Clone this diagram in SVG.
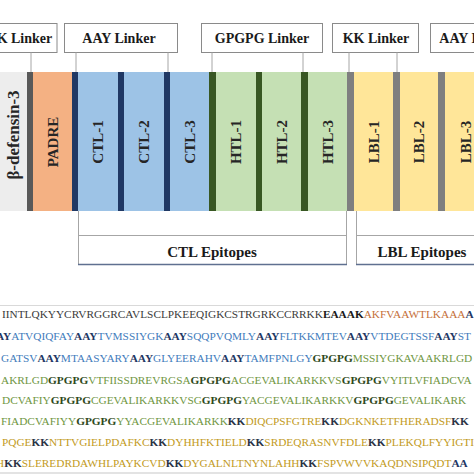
<svg xmlns="http://www.w3.org/2000/svg" width="474" height="474" viewBox="0 0 474 474">
<style>
.lbox{fill:#fff;stroke:#8a8a8a;stroke-width:1}
.lt{font-family:"Liberation Serif","Times New Roman",serif;font-weight:bold;font-size:14px;fill:#1a1a1a;text-anchor:middle}
.conn{stroke:#a6a6a6;stroke-width:1;fill:none}
.seg{font-family:"Liberation Serif","Times New Roman",serif;font-weight:bold;font-size:15px;fill:#262626;text-anchor:middle}
.ep{font-family:"Liberation Serif","Times New Roman",serif;font-weight:bold;font-size:15px;fill:#1a1a1a;text-anchor:middle}
.seq{font-family:"Liberation Serif","Times New Roman",serif;font-size:11.3px}
.b{font-weight:bold}
.k{fill:#3a3a3a}.kb{fill:#1a1a1a}
.o{fill:#c5703a}
.bl{fill:#3f7cbc}.blb{fill:#1f3864}
.g{fill:#6f9642}.gb{fill:#2f4a1c}
.y{fill:#c29a22}.yb{fill:#2b3345}
</style>
<rect width="474" height="474" fill="#fff"/>

<!-- top linker boxes -->
<g id="kk-linker-left"><rect class="lbox" x="-26" y="23.5" width="83" height="29"/><text class="lt" x="19" y="43">KK Linker</text></g>
<g id="aay-linker"><rect class="lbox" x="64.5" y="23.5" width="113" height="29"/><text class="lt" x="119" y="43">AAY Linker</text></g>
<g id="gpgpg-linker"><rect class="lbox" x="201.5" y="23.5" width="121" height="29"/><text class="lt" x="262" y="43">GPGPG Linker</text></g>
<g id="kk-linker"><rect class="lbox" x="332.5" y="23.5" width="86" height="29"/><text class="lt" x="376" y="43">KK Linker</text></g>
<g id="aay-linker-right"><rect class="lbox" x="430.5" y="23.5" width="92" height="29"/><text class="lt" x="476" y="43">AAY Linker</text></g>

<g id="connectors">
<line class="conn" x1="31" y1="52.5" x2="31" y2="72"/>
<line class="conn" x1="76" y1="52.5" x2="76" y2="72"/>
<line class="conn" x1="168" y1="52.5" x2="168" y2="72"/>
<line class="conn" x1="212" y1="52.5" x2="212" y2="72"/>
<line class="conn" x1="303" y1="52.5" x2="303" y2="72"/>
<line class="conn" x1="349" y1="52.5" x2="349" y2="72"/>
<line class="conn" x1="397" y1="52.5" x2="397" y2="72"/>
</g>

<!-- construct bar -->
<g id="bar">
<rect x="0" y="72" width="27" height="139" fill="#ededed"/>
<rect x="27" y="72" width="6" height="139" fill="#595959"/>
<rect x="33" y="72" width="39" height="139" fill="#f4b183"/>
<rect x="72" y="72" width="6" height="139" fill="#203864"/>
<rect x="78" y="72" width="40" height="139" fill="#9dc3e6"/>
<rect x="118" y="72" width="6" height="139" fill="#203864"/>
<rect x="124" y="72" width="40" height="139" fill="#9dc3e6"/>
<rect x="164" y="72" width="6" height="139" fill="#203864"/>
<rect x="170" y="72" width="39" height="139" fill="#9dc3e6"/>
<rect x="209" y="72" width="7" height="139" fill="#385723"/>
<rect x="216" y="72" width="40" height="139" fill="#c5e0b4"/>
<rect x="256" y="72" width="6" height="139" fill="#385723"/>
<rect x="262" y="72" width="39" height="139" fill="#c5e0b4"/>
<rect x="301" y="72" width="7" height="139" fill="#385723"/>
<rect x="308" y="72" width="39" height="139" fill="#c5e0b4"/>
<rect x="347" y="72" width="7" height="139" fill="#7f7f7f"/>
<rect x="354" y="72" width="39" height="139" fill="#ffe699"/>
<rect x="393" y="72" width="7" height="139" fill="#7f7f7f"/>
<rect x="400" y="72" width="38" height="139" fill="#ffe699"/>
<rect x="438" y="72" width="7" height="139" fill="#7f7f7f"/>
<rect x="445" y="72" width="40" height="139" fill="#ffe699"/>
</g>
<g id="bdef3"><text class="seg" style="font-size:17px" transform="translate(13,135) rotate(-90)" y="5.5">β-defensin-3</text></g>
<g id="padre"><text class="seg" transform="translate(52.5,142) rotate(-90)" y="5">PADRE</text></g>
<g id="ctl1"><text class="seg" transform="translate(98,142) rotate(-90)" y="5">CTL-1</text></g>
<g id="ctl2"><text class="seg" transform="translate(144,142) rotate(-90)" y="5">CTL-2</text></g>
<g id="ctl3"><text class="seg" transform="translate(189.5,142) rotate(-90)" y="5">CTL-3</text></g>
<g id="htl1"><text class="seg" transform="translate(236,142) rotate(-90)" y="5">HTL-1</text></g>
<g id="htl2"><text class="seg" transform="translate(281.5,142) rotate(-90)" y="5">HTL-2</text></g>
<g id="htl3"><text class="seg" transform="translate(327.5,142) rotate(-90)" y="5">HTL-3</text></g>
<g id="lbl1"><text class="seg" transform="translate(373.5,142) rotate(-90)" y="5">LBL-1</text></g>
<g id="lbl2"><text class="seg" transform="translate(419,142) rotate(-90)" y="5">LBL-2</text></g>
<g id="lbl3"><text class="seg" transform="translate(466,142) rotate(-90)" y="5">LBL-3</text></g>

<!-- epitope brackets -->
<g id="ctl-epitopes">
<path d="M78.5,211 V265 M346.5,211 V265 M78.5,235.5 H346.5" fill="none" stroke="#a6a6a6" stroke-width="1"/>
<line x1="78" y1="264.5" x2="347" y2="264.5" stroke="#5f7090" stroke-width="1.5"/>
<text class="ep" x="212" y="257">CTL Epitopes</text>
</g>
<g id="lbl-epitopes">
<path d="M356.5,211 V265 M356.5,235.5 H490" fill="none" stroke="#a6a6a6" stroke-width="1"/>
<line x1="356" y1="264.5" x2="490" y2="264.5" stroke="#5f7090" stroke-width="1.5"/>
<text class="ep" x="422" y="257">LBL Epitopes</text>
</g>

<line x1="0" y1="305.5" x2="474" y2="305.5" stroke="#d9d9d9" stroke-width="1"/>

<!-- sequence -->
<g id="sequence" class="seq">
<text x="2" y="318"><tspan class="k">IINTLQKYYCRVRGGRCAVLSCLPKEEQIGKCSTRGRKCCRRKK</tspan><tspan class="kb b">EAAAK</tspan><tspan class="o">AKFVAAWTLKAAA</tspan><tspan class="blb b">A</tspan></text>
<text x="-4" y="340"><tspan class="blb b">AY</tspan><tspan class="bl">ATVQIQFAY</tspan><tspan class="blb b">AAY</tspan><tspan class="bl">TVMSSIYGK</tspan><tspan class="blb b">AAY</tspan><tspan class="bl">SQQPVQMLY</tspan><tspan class="blb b">AAY</tspan><tspan class="bl">FLTKKMTEV</tspan><tspan class="blb b">AAY</tspan><tspan class="bl">VTDEGTSSF</tspan><tspan class="blb b">AAY</tspan><tspan class="bl">ST</tspan></text>
<text x="1" y="362"><tspan class="bl">GATSV</tspan><tspan class="blb b">AAY</tspan><tspan class="bl">MTAASYARY</tspan><tspan class="blb b">AAY</tspan><tspan class="bl">GLYEERAHV</tspan><tspan class="blb b">AAY</tspan><tspan class="bl">TAMFPNLGY</tspan><tspan class="gb b">GPGPG</tspan><tspan class="g">MSSIYGKAVAAKRLG</tspan><tspan class="g">D</tspan></text>
<text x="1" y="384"><tspan class="g">AKRLGD</tspan><tspan class="gb b">GPGPG</tspan><tspan class="g">VTFIISSDREVRGSA</tspan><tspan class="gb b">GPGPG</tspan><tspan class="g">ACGEVALIKARKKVS</tspan><tspan class="gb b">GPGPG</tspan><tspan class="g">VYITLVFIADCVA</tspan></text>
<text x="2" y="404"><tspan class="g">DCVAFIY</tspan><tspan class="gb b">GPGPG</tspan><tspan class="g">CGEVALIKARKKVSG</tspan><tspan class="gb b">GPGPG</tspan><tspan class="g">YACGEVALIKARKKV</tspan><tspan class="gb b">GPGPG</tspan><tspan class="g">GEVALIKARK</tspan></text>
<text x="1" y="425"><tspan class="g">FIADCVAFIYY</tspan><tspan class="gb b">GPGPG</tspan><tspan class="g">YYACGEVALIKARKK</tspan><tspan class="yb b">KK</tspan><tspan class="y">DIQCPSFGTRE</tspan><tspan class="yb b">KK</tspan><tspan class="y">DGKNKETFHERADSF</tspan><tspan class="yb b">KK</tspan></text>
<text x="2" y="446"><tspan class="y">PQGE</tspan><tspan class="yb b">KK</tspan><tspan class="y">NTTVGIELPDAFKC</tspan><tspan class="yb b">KK</tspan><tspan class="y">DYHHFKTIELD</tspan><tspan class="yb b">KK</tspan><tspan class="y">SRDEQRASNVFDLE</tspan><tspan class="yb b">KK</tspan><tspan class="y">PLEKQLFYYIGTI</tspan></text>
<text x="-4" y="467"><tspan class="y">H</tspan><tspan class="yb b">KK</tspan><tspan class="y">SLEREDRDAWHLPAYKCVD</tspan><tspan class="yb b">KK</tspan><tspan class="y">DYGALNLTNYNLAHH</tspan><tspan class="yb b">KK</tspan><tspan class="y">FSPVWVVKAQDNSIPQDT</tspan><tspan class="blb b">AA</tspan></text>
</g>
<rect x="0" y="472" width="474" height="2" fill="#e3e3e3"/>
</svg>
